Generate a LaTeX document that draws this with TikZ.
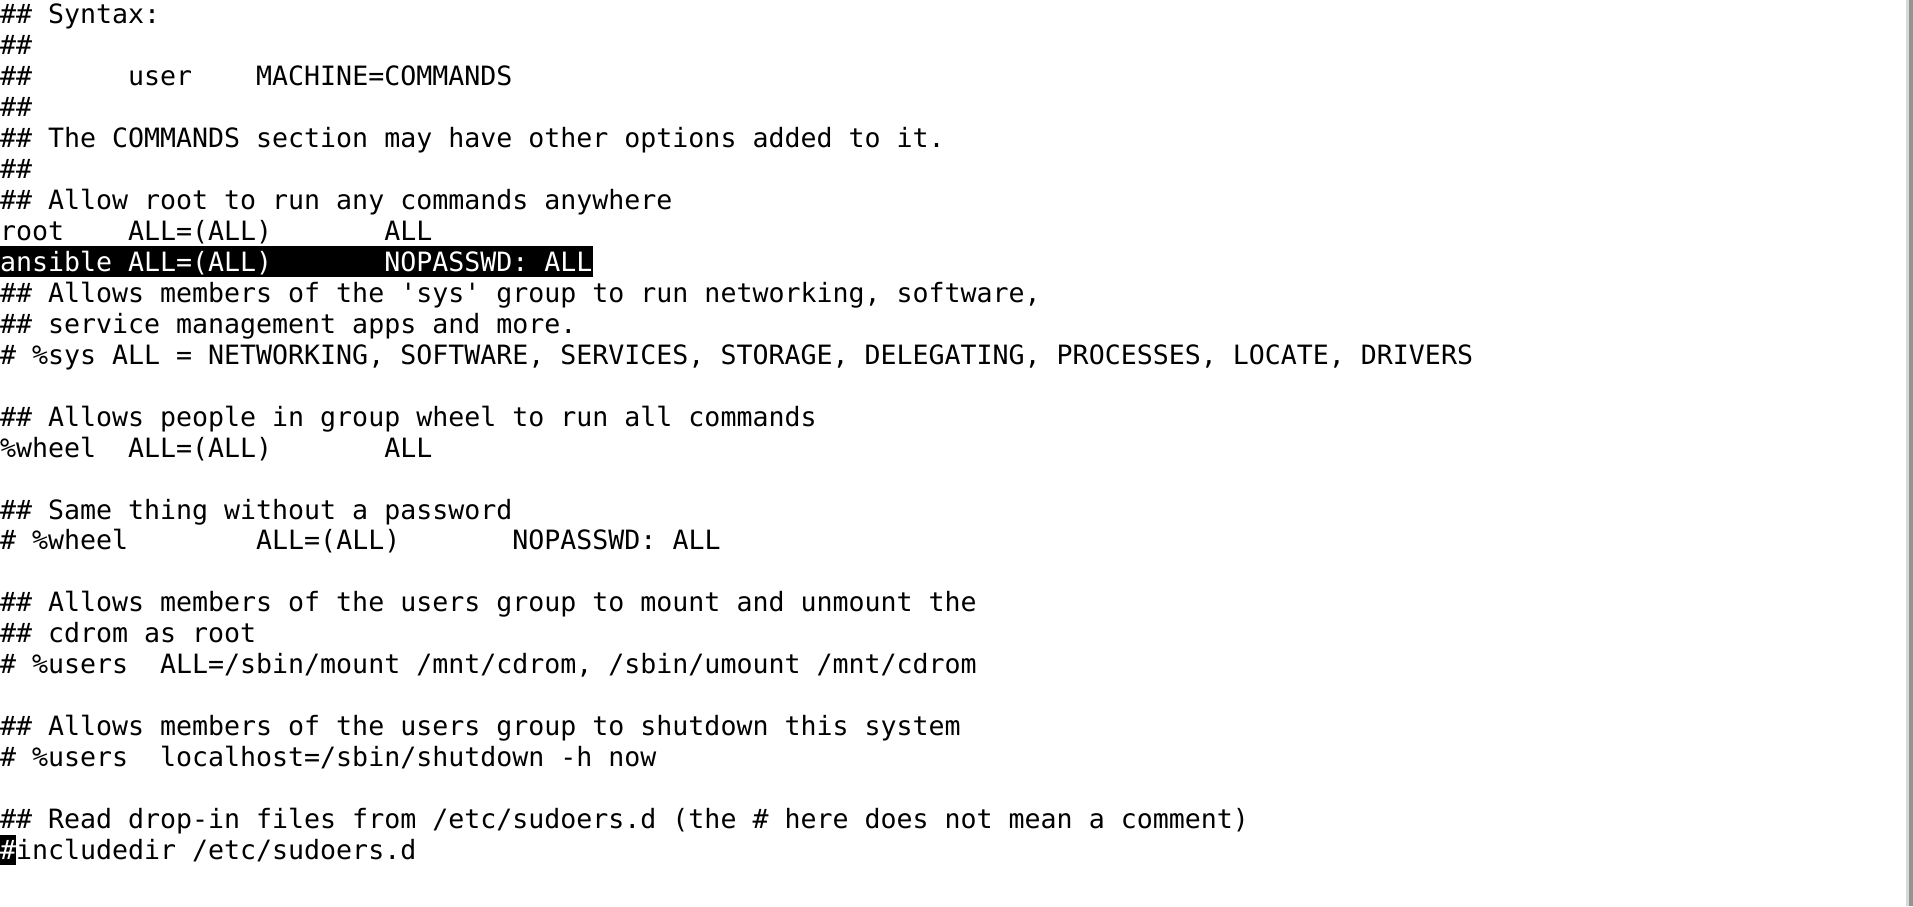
\documentclass[tikz,border=0pt]{standalone}
\usepackage{fontspec}
\newfontfamily\mono{DejaVu Sans Mono}
\begin{document}
\begin{tikzpicture}[x=1pt,y=-1pt,
  ln/.style={anchor=base west,inner sep=0pt,outer sep=0pt,font=\mono\fontsize{21.8}{25}\selectfont},
  inv/.style={ln,text=white}]
\useasboundingbox[fill=white] (0,0) rectangle (1568,743);
\fill[gray!30] (1562,0) rectangle (1565,743);
\fill[gray!85] (1565,0) rectangle (1568,743);
\def\B#1{\fpeval{19+25.4*#1}}
\fill[black] (0,{\B{8}-20.5}) rectangle (486,{\B{8}+4.5});
\fill[black] (0,{\B{27}-20.5}) rectangle (13.1,{\B{27}+4.5});
\node[ln] (l0) at (0,{\B{0}}) {\#\# Syntax:};
\node[ln] (l1) at (0,{\B{1}}) {\#\#};
\node[ln] (l2) at (0,{\B{2}}) {\#\#\ \ \ \ \ \ user\ \ \ \ MACHINE=COMMANDS};
\node[ln] (l3) at (0,{\B{3}}) {\#\#};
\node[ln] (l4) at (0,{\B{4}}) {\#\# The COMMANDS section may have other options added to it.};
\node[ln] (l5) at (0,{\B{5}}) {\#\#};
\node[ln] (l6) at (0,{\B{6}}) {\#\# Allow root to run any commands anywhere};
\node[ln] (l7) at (0,{\B{7}}) {root\ \ \ \ ALL=(ALL)\ \ \ \ \ \ \ ALL};
\node[inv] (l8) at (0,{\B{8}}) {ansible ALL=(ALL)\ \ \ \ \ \ \ NOPASSWD: ALL};
\node[ln] (l9) at (0,{\B{9}}) {\#\# Allows members of the 'sys' group to run networking, software,};
\node[ln] (l10) at (0,{\B{10}}) {\#\# service management apps and more.};
\node[ln] (l11) at (0,{\B{11}}) {\# \%sys ALL = NETWORKING, SOFTWARE, SERVICES, STORAGE, DELEGATING, PROCESSES, LOCATE, DRIVERS};
\node[ln] (l13) at (0,{\B{13}}) {\#\# Allows people in group wheel to run all commands};
\node[ln] (l14) at (0,{\B{14}}) {\%wheel\ \ ALL=(ALL)\ \ \ \ \ \ \ ALL};
\node[ln] (l16) at (0,{\B{16}}) {\#\# Same thing without a password};
\node[ln] (l17) at (0,{\B{17}}) {\# \%wheel\ \ \ \ \ \ \ \ ALL=(ALL)\ \ \ \ \ \ \ NOPASSWD: ALL};
\node[ln] (l19) at (0,{\B{19}}) {\#\# Allows members of the users group to mount and unmount the};
\node[ln] (l20) at (0,{\B{20}}) {\#\# cdrom as root};
\node[ln] (l21) at (0,{\B{21}}) {\# \%users\ \ ALL=/sbin/mount /mnt/cdrom, /sbin/umount /mnt/cdrom};
\node[ln] (l23) at (0,{\B{23}}) {\#\# Allows members of the users group to shutdown this system};
\node[ln] (l24) at (0,{\B{24}}) {\# \%users\ \ localhost=/sbin/shutdown -h now};
\node[ln] (l26) at (0,{\B{26}}) {\#\# Read drop-in files from /etc/sudoers.d (the \# here does not mean a comment)};
\node[ln] (l27a) at (0,{\B{27}}) {\textcolor{white}{\#}includedir /etc/sudoers.d};
\end{tikzpicture}
\end{document}
